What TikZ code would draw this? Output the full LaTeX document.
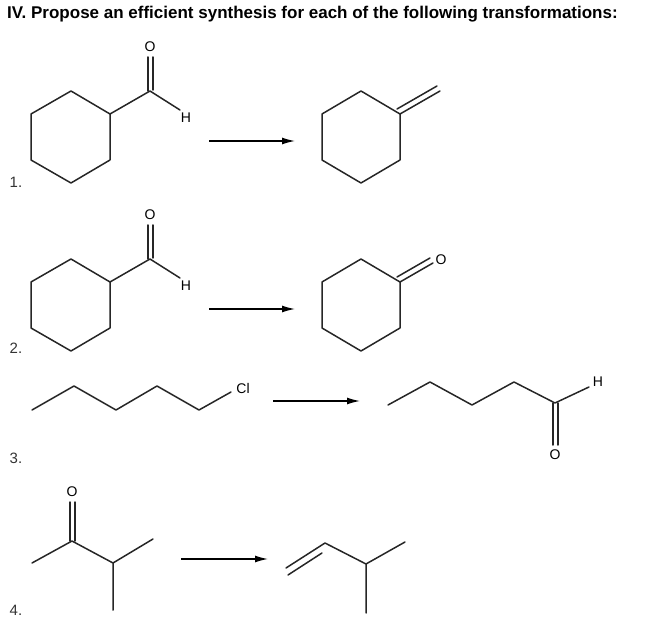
\documentclass[tikz,border=0pt]{standalone}
\usepackage{fontspec}
\setmainfont{Liberation Sans}
\usetikzlibrary{arrows.meta}
\begin{document}
\begin{tikzpicture}[x=1pt,y=-1pt,
  bond/.style={line width=1.5pt,color=black!85,line cap=round,line join=round},
  rxn/.style={line width=1.4pt,-{Latex[length=13pt,width=7pt]}},
  atom/.style={font=\fontsize{14}{14}\selectfont,inner sep=0pt},
  num/.style={font=\fontsize{15}{15}\selectfont,inner sep=0pt,text=black!80}]
\useasboundingbox (0,0) rectangle (667,628);
\node[anchor=west,font=\bfseries\fontsize{17}{18}\selectfont,inner sep=0pt] (title) at (7,14) {IV. Propose an efficient synthesis for each of the following transformations:};
% 1
\foreach \dy/\n in {0/1,168/2}{
\begin{scope}[yshift=-\dy]
\draw[bond] (71,91)--(110,114)--(110,160)--(71,183)--(31,160)--(31,114)--cycle;
\draw[bond] (110,114)--(150,91)--(180,110);
\draw[bond] (148,91)--(148,57) (153,90)--(153,57);
\end{scope}}
\node[atom] (o1) at (150,47) {O};
\node[atom] (h1) at (186,118) {H};
\node[num] (n1) at (16,182) {1.};
\coordinate (a1s) at (209,141); \coordinate (a1e) at (295,141);
\draw[rxn] (a1s)--(a1e);
\draw[bond] (361,91)--(400,114)--(400,160)--(361,183)--(322,160)--(322,114)--cycle;
\draw[bond] (400,114)--(440,91) (397,109)--(437,86);
% 2
\node[atom] (o2) at (150,215) {O};
\node[atom] (h2) at (186,286) {H};
\node[num] (n2) at (16,348) {2.};
\coordinate (a2s) at (209,309); \coordinate (a2e) at (295,309);
\draw[rxn] (a2s)--(a2e);
\draw[bond] (361,259)--(400,282)--(400,328)--(361,351)--(322,328)--(322,282)--cycle;
\draw[bond] (400,282)--(433,263) (397,277)--(430,258);
\node[atom] (o3) at (441,260) {O};
% 3
\draw[bond] (32,410)--(74,386)--(116,410)--(157,386)--(199,410)--(231,392);
\node[atom] (cl) at (243,388) {Cl};
\node[num] (n3) at (16,458) {3.};
\coordinate (a3s) at (273,401); \coordinate (a3e) at (360,401);
\draw[rxn] (a3s)--(a3e);
\draw[bond] (388,405)--(430,382)--(472,405)--(514,382)--(555,403)--(589,387);
\draw[bond] (553,403)--(553,445) (558,403)--(558,445);
\node[atom] (o4) at (555,455) {O};
\node[atom] (h4) at (598,382) {H};
% 4
\draw[bond] (32,563)--(72,541)--(113,563)--(153,539) (113,563)--(113,610);
\draw[bond] (70,541)--(70,502) (75,541)--(75,502);
\node[atom] (o5) at (72,492) {O};
\node[num] (n4) at (16,610) {4.};
\coordinate (a4s) at (181,559); \coordinate (a4e) at (268,559);
\draw[rxn] (a4s)--(a4e);
\draw[bond] (286,568)--(325,543)--(366,564)--(405,542) (366,564)--(366,613);
\draw[bond] (288,575)--(322,553);
\end{tikzpicture}
\end{document}
